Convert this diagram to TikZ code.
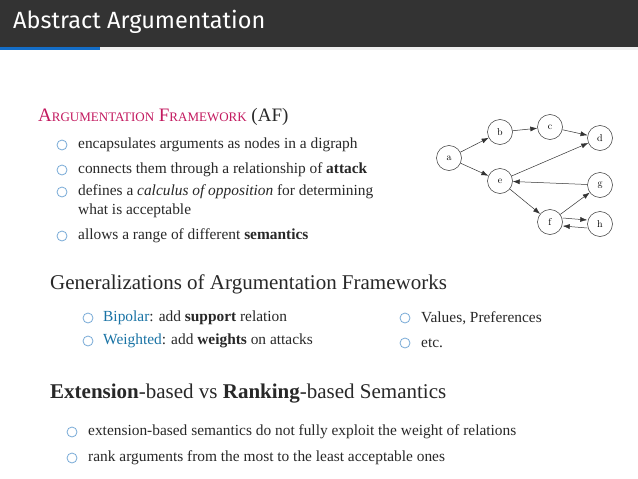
\documentclass[tikz,border=0pt]{standalone}
\usepackage{fontspec}
\setmainfont{Liberation Serif}
\newfontfamily\titlefont{Fira Sans}
\usetikzlibrary{arrows.meta}
\definecolor{titlebg}{RGB}{51,51,51}
\definecolor{barblue}{RGB}{20,110,200}
\definecolor{afmag}{RGB}{195,25,95}
\definecolor{teal}{RGB}{25,115,165}
\definecolor{bul}{RGB}{120,170,215}
\definecolor{txt}{RGB}{40,40,40}
\newcommand{\fsc}[2]{#1{\fontsize{13}{15}\selectfont #2}}
\begin{document}
\begin{tikzpicture}[x=1pt,y=-1pt,
  txtn/.style={anchor=west,inner sep=0pt,text=txt,font=\fontsize{15.4}{18}\selectfont},
  bigt/.style={anchor=west,inner sep=0pt,text=txt,font=\fontsize{21}{25}\selectfont},
  bulc/.style={circle,draw=bul,line width=0.8pt,minimum size=10pt,inner sep=0pt},
  gn/.style={circle,draw=black!80,line width=0.5pt,minimum size=25pt,inner sep=0pt,font=\fontfamily{lmr}\selectfont\fontsize{10}{11}\selectfont},
  ga/.style={-{Latex[length=7pt,width=5pt]},line width=0.5pt,black!80}]
\useasboundingbox (0,0) rectangle (638,479);
\fill[white] (0,0) rectangle (638,479);
\fill[titlebg] (0,0) rectangle (638,47);
\fill[barblue] (0,47) rectangle (100,50);
\fill[black!6] (100,47) rectangle (638,50);
\node[anchor=west,inner sep=0pt,text=white,font=\titlefont\fontsize{23.5}{28}\selectfont] (title) at (13,22) {Abstract Argumentation};
\node[anchor=west,inner sep=0pt,font=\fontsize{19}{22}\selectfont] (af) at (38,117) {\textcolor{afmag}{\fsc{A}{RGUMENTATION} \fsc{F}{RAMEWORK}} \textcolor{txt}{(AF)}};
\foreach \y/\n in {145/b1,170/b2,192/b3,236/b4} \node[bulc] (\n) at (62,\y) {};
\node[txtn] (t1) at (78,145) {encapsulates arguments as nodes in a digraph};
\node[txtn] (t2) at (78,170) {connects them through a relationship of \textbf{attack}};
\node[txtn] (t3) at (78,192) {defines a \textit{calculus of opposition} for determining};
\node[txtn] (t3b) at (78,211) {what is acceptable};
\node[txtn] (t4) at (78,236) {allows a range of different \textbf{semantics}};
\node[gn] (a) at (449,158) {a};
\node[gn] (b) at (500,132) {b};
\node[gn] (c) at (550,127) {c};
\node[gn] (d) at (600,138) {d};
\node[gn] (e) at (500,181) {e};
\node[gn] (g) at (600,185) {g};
\node[gn] (f) at (550,222) {f};
\node[gn] (h) at (600,224) {h};
\draw[ga] (a) -- (b);
\draw[ga] (a) -- (e);
\draw[ga] (b) -- (c);
\draw[ga] (c) -- (d);
\draw[ga] (e) -- (d);
\draw[ga] (g) -- (e);
\draw[ga] (e) -- (f);
\draw[ga] (f) -- (g);
\draw[ga] ([yshift=-4pt]h.west) -- ([yshift=-4pt]f.east);
\draw[ga] ([yshift=4pt]f.east) -- ([yshift=4pt]h.west);
\node[bigt] (gen) at (50,284) {Generalizations of Argumentation Frameworks};
\node[bulc] (c1) at (88,318) {};
\node[bulc] (c2) at (88,341) {};
\node[txtn] (g1) at (103,318) {\textcolor{teal}{Bipolar}: add \textbf{support} relation};
\node[txtn] (g2) at (103,341) {\textcolor{teal}{Weighted}: add \textbf{weights} on attacks};
\node[bulc] (c3) at (405,318) {};
\node[bulc] (c4) at (405,343) {};
\node[txtn] (g3) at (421,318) {Values, Preferences};
\node[txtn] (g4) at (421,343) {etc.};
\node[bigt] (ext) at (50,394) {\textbf{Extension}-based vs \textbf{Ranking}-based Semantics};
\node[bulc] (c5) at (72,432) {};
\node[bulc] (c6) at (72,458) {};
\node[txtn] (e1) at (88,432) {extension-based semantics do not fully exploit the weight of relations};
\node[txtn] (e2) at (88,458) {rank arguments from the most to the least acceptable ones};
\end{tikzpicture}
\end{document}
